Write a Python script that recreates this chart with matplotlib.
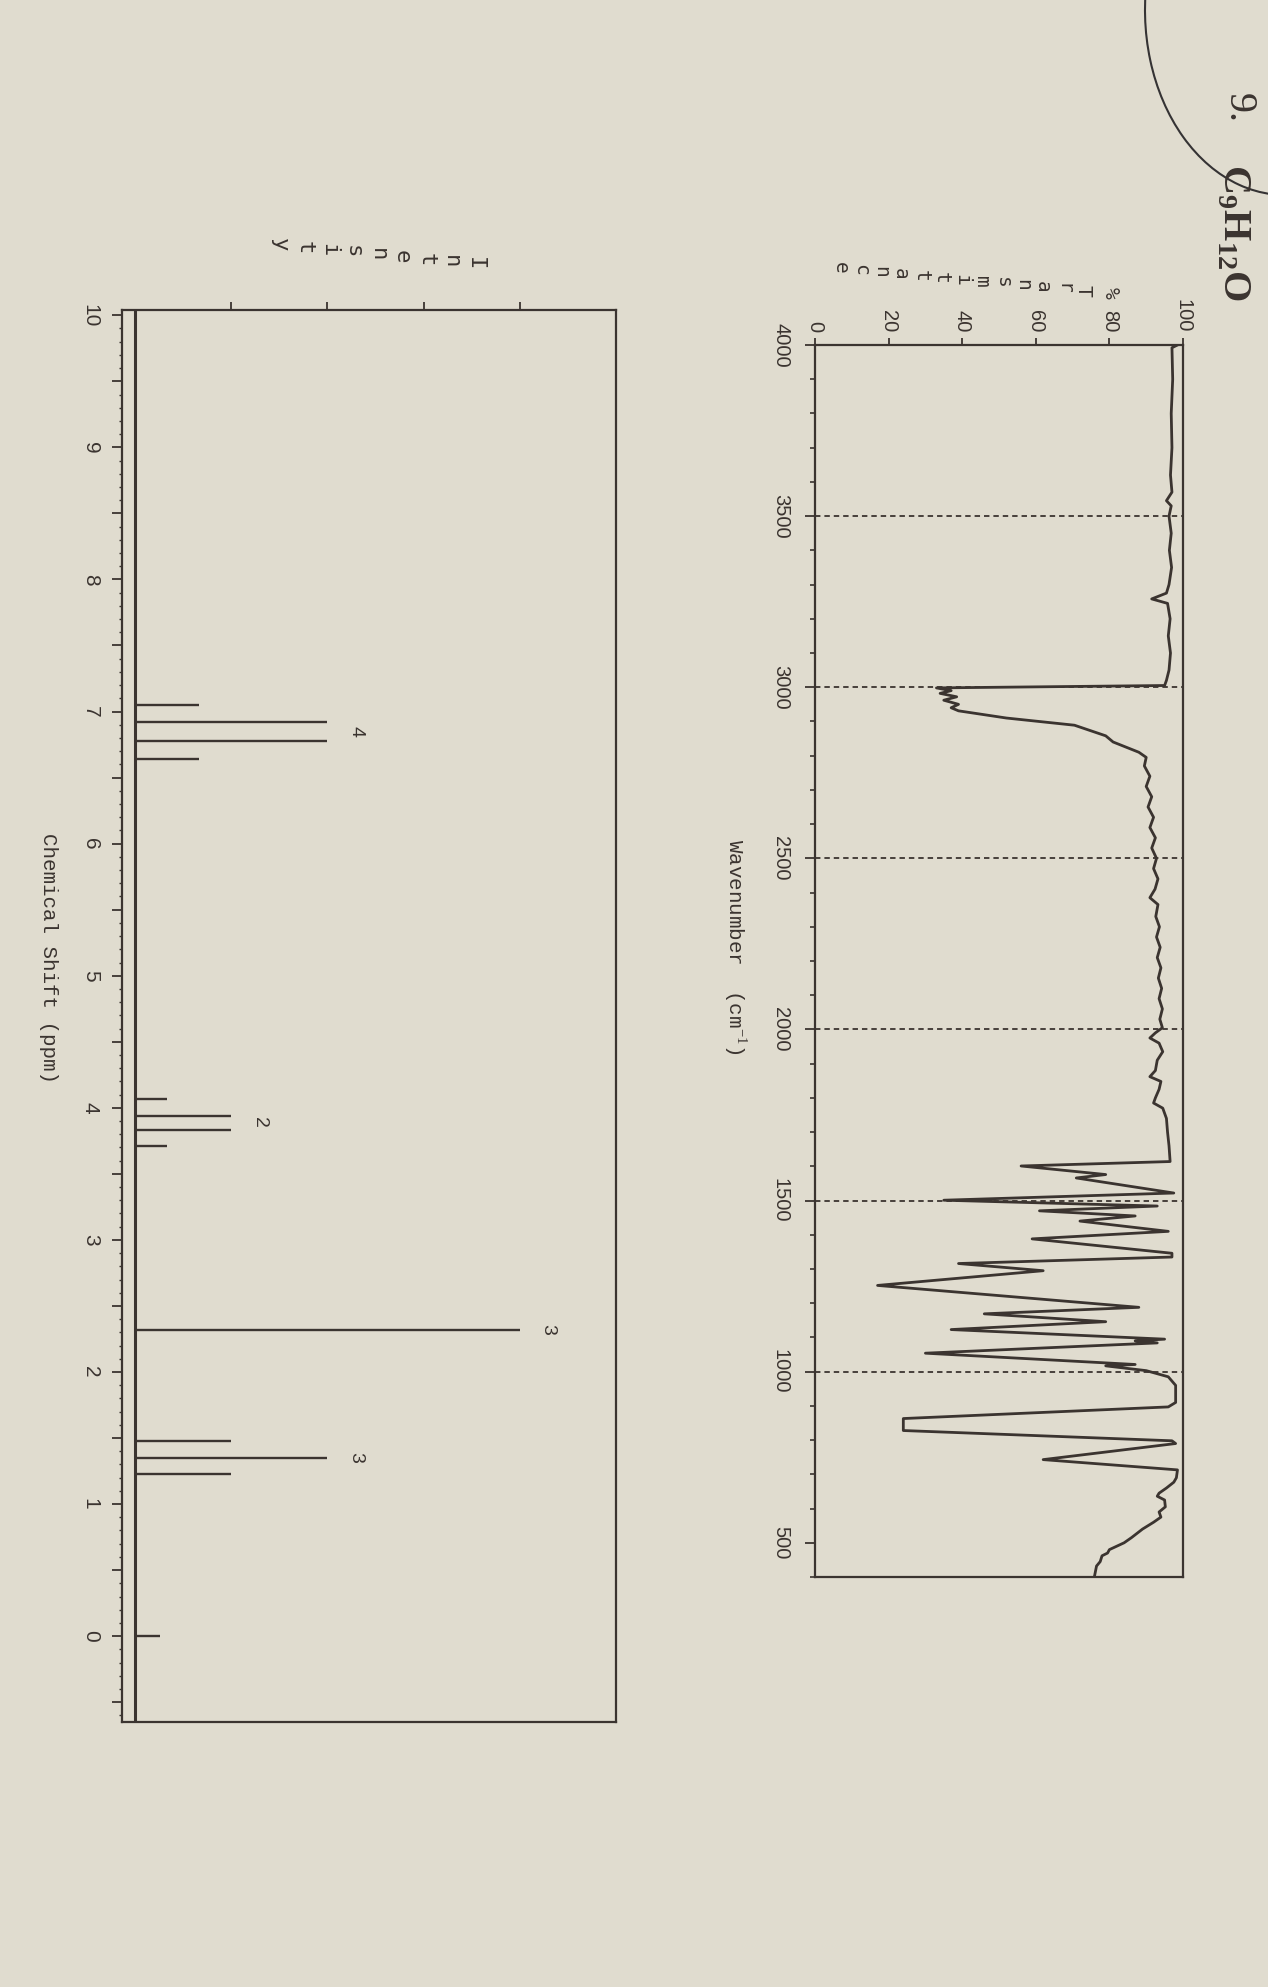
import numpy as np
import matplotlib.pyplot as plt
from matplotlib.patches import Arc
from matplotlib.ticker import FixedLocator, MultipleLocator

# page is photographed on its side: original top is on the right
W, H = 1268, 1987
DPI = 100
PAPER = '#e0dccf'
INK = '#3b3430'

plt.rcParams['font.family'] = ['Liberation Sans', 'DejaVu Sans']
plt.rcParams['mathtext.fontset'] = 'custom'
plt.rcParams['mathtext.rm'] = 'Liberation Serif'
plt.rcParams['mathtext.bf'] = 'Liberation Serif:bold'

# IR spectrum (cm-1, % transmittance)
ir_wavenumber = [4000, 3992, 3900, 3800, 3700, 3620, 3570, 3545, 3530, 3500,
                 3450, 3400, 3350, 3300, 3275, 3258, 3245, 3200, 3150, 3100,
                 3050, 3020, 3005, 2998, 2990, 2982, 2972, 2962, 2950, 2940,
                 2931, 2910, 2889, 2858, 2840, 2810, 2795, 2770, 2740, 2710,
                 2680, 2650, 2620, 2590, 2560, 2530, 2500, 2470, 2440, 2410,
                 2385, 2365, 2330, 2300, 2270, 2240, 2210, 2180, 2150, 2120,
                 2090, 2060, 2030, 2005, 1990, 1975, 1960, 1935, 1910, 1880,
                 1862, 1848, 1825, 1800, 1785, 1770, 1740, 1700, 1660, 1614,
                 1601, 1576, 1566, 1522, 1501, 1484, 1470, 1455, 1440, 1410,
                 1388, 1346, 1335, 1316, 1295, 1252, 1188, 1169, 1146, 1123,
                 1095, 1090, 1084, 1054, 1021, 1017, 1003, 985, 960, 910,
                 897, 863, 828, 798, 790, 743, 713, 690, 677, 660,
                 645, 636, 625, 605, 590, 575, 560, 540, 515, 500,
                 480, 470, 462, 445, 432, 405]
ir_transmittance = [98.5, 97, 97.2, 96.8, 97, 96.6, 97, 95.5, 96.8, 96.2,
                    96.8, 96.3, 96.9, 96.2, 95.5, 91.5, 95.8, 96.5, 96, 96.6,
                    96.2, 95.5, 95, 33, 37, 34, 38.5, 35, 39, 37,
                    39, 52, 70.5, 79, 81, 88, 90, 89.5, 91, 90,
                    91.5, 90.5, 92, 91, 92.5, 91.5, 92.8, 92, 93.2, 92.4,
                    91, 93.2, 92.6, 93.6, 92.8, 93.8, 93, 94, 93.3, 94.2,
                    93.5, 94.4, 93.7, 94.4, 92.5, 91, 93.5, 94.5, 93, 92.5,
                    91, 94, 93.5, 92.5, 92, 94.5, 95.5, 95.8, 96.2, 96.5,
                    56, 79, 71, 97.5, 35, 93, 61, 87, 72, 96,
                    59, 97, 97, 39, 62, 17, 88, 46, 79, 37,
                    95, 87, 93, 30, 87, 79, 90, 96, 98, 98,
                    96, 24, 24, 97, 98, 62, 98.5, 98.2, 97.5, 95.5,
                    93.5, 93, 95, 95.2, 93.5, 94, 92, 89, 86, 84,
                    80, 79.5, 78, 77.5, 76.5, 76]
ir_grid = [3500, 3000, 2500, 2000, 1500, 1000]
ir_ticks = [4000, 3500, 3000, 2500, 2000, 1500, 1000, 500]
t_ticks = [0, 20, 40, 60, 80, 100]

# 1H NMR stick spectrum (ppm, relative height)
nmr_shift = [7.05, 6.92, 6.78, 6.64, 4.07, 3.94, 3.83, 3.71,
             2.32, 1.48, 1.35, 1.23, 0.0]
nmr_height = [0.5, 1.5, 1.5, 0.5, 0.25, 0.75, 0.75, 0.25,
              3.0, 0.75, 1.5, 0.75, 0.2]
group_shift = [6.85, 3.89, 2.32, 1.35]
group_label = ['4', '2', '3', '3']
intensity_ticks = [0.75, 1.5, 2.25, 3.0]
ppm_ticks = np.arange(-0.5, 10.01, 0.5)


def px_rect(left, top, right, bottom):
    return [left / W, 1 - bottom / H, (right - left) / W, (bottom - top) / H]


def ftext(x, y, s, **kw):
    kw.setdefault('rotation', -90)
    kw.setdefault('ha', 'center')
    kw.setdefault('va', 'center')
    kw.setdefault('color', INK)
    return fig.text(x / W, 1 - y / H, s, **kw)


def stacked(word, start, end, size):
    # letters stacked one per line in the original, so each is turned here
    n = len(word)
    for i, ch in enumerate(word):
        f = i / (n - 1)
        x = start[0] + f * (end[0] - start[0])
        y = start[1] + f * (end[1] - start[1])
        ftext(x, y, ch, fontsize=size, family='DejaVu Sans Mono')


fig = plt.figure(figsize=(W / DPI, H / DPI), dpi=DPI, facecolor=PAPER)

# ---- IR panel ----
ir = fig.add_axes(px_rect(815, 345, 1183, 1577))
ir.set_facecolor('none')
for g in ir_grid:
    ir.axhline(g, color=INK, lw=1.3, ls=(0, (3, 2.2)))
ir.plot(ir_transmittance, ir_wavenumber, color=INK, lw=2.0,
        solid_joinstyle='round')
ir.set_xlim(0, 100)
ir.set_ylim(400, 4000)
for s in ir.spines.values():
    s.set_color(INK)
    s.set_linewidth(1.6)
ir.xaxis.set_ticks_position('top')
ir.set_xticks(t_ticks)
ir.set_xticklabels([str(v) for v in t_ticks], rotation=-90,
                   ha='center', va='bottom')
ir.set_yticks(ir_ticks)
ir.set_yticklabels([str(v) for v in ir_ticks], rotation=-90,
                   ha='right', va='center')
ir.yaxis.set_minor_locator(MultipleLocator(100))
ir.tick_params(axis='x', which='both', top=True, bottom=False, length=5,
               width=1.3, color=INK, labelcolor=INK, labelsize=14.5, pad=4)
ir.tick_params(axis='y', which='major', left=True, right=False, length=7,
               width=1.3, color=INK, labelcolor=INK, labelsize=14.5, pad=11)
ir.tick_params(axis='y', which='minor', left=True, right=False, length=3.5,
               width=1.2, color=INK)

ftext(735, 947, 'Wavenumber  (cm$^{-1}$)', fontsize=15, family='Liberation Mono')
ftext(1110, 293, '%', fontsize=14, family='DejaVu Sans Mono')
stacked('Transmittance', (1083, 291), (840, 268), 14)

# ---- NMR panel ----
nmr = fig.add_axes(px_rect(122, 310, 616, 1722))
nmr.set_facecolor('none')
nmr.axvline(0, color=INK, lw=2.2)
nmr.hlines(nmr_shift, 0, nmr_height, color=INK, lw=1.7)
shift_arr = np.array(nmr_shift)
height_arr = np.array(nmr_height)
for gs, lab in zip(group_shift, group_label):
    top = height_arr[np.abs(shift_arr - gs) < 0.3].max()
    nmr.text(top + 0.22, gs, lab, rotation=-90, ha='center', va='center',
             fontsize=14, color=INK)
nmr.set_xlim(-0.1, 3.75)
nmr.set_ylim(-0.65, 10.04)
for s in nmr.spines.values():
    s.set_color(INK)
    s.set_linewidth(1.6)
nmr.xaxis.set_ticks_position('top')
nmr.set_xticks(intensity_ticks)
nmr.set_xticklabels([])
nmr.yaxis.set_major_locator(FixedLocator(ppm_ticks))
nmr.set_yticklabels([f'{v:.0f}' if v >= 0 and v == int(v) else ''
                     for v in ppm_ticks], rotation=-90, ha='right', va='center')
nmr.yaxis.set_minor_locator(MultipleLocator(0.1))
nmr.tick_params(axis='x', which='both', top=True, bottom=False, length=5.5,
                width=1.3, color=INK)
nmr.tick_params(axis='y', which='major', left=True, right=False, length=7,
                width=1.3, color=INK, labelcolor=INK, labelsize=15, pad=9)
nmr.tick_params(axis='y', which='minor', left=True, right=False, length=2.2,
                width=1.0, color=INK)

ftext(48, 958, 'Chemical Shift (ppm)', fontsize=15, family='Liberation Mono')
stacked('Intensity', (475, 264), (280, 245), 16)

# ---- title and pen circle ----
ftext(1238, 108, '9.', fontsize=29, family='Liberation Serif')
ftext(1233, 232, r'C$_{\mathbf{9}}$H$_{\mathbf{12}}$O', fontsize=29,
      family='Liberation Serif', fontweight='bold')
fig.add_artist(Arc((1285 / W, 1 - 10 / H), 280 / W, 370 / H,
                   theta1=170, theta2=280, transform=fig.transFigure,
                   color='#353334', lw=1.5))

fig.savefig('out.png', dpi=DPI, facecolor=PAPER)
